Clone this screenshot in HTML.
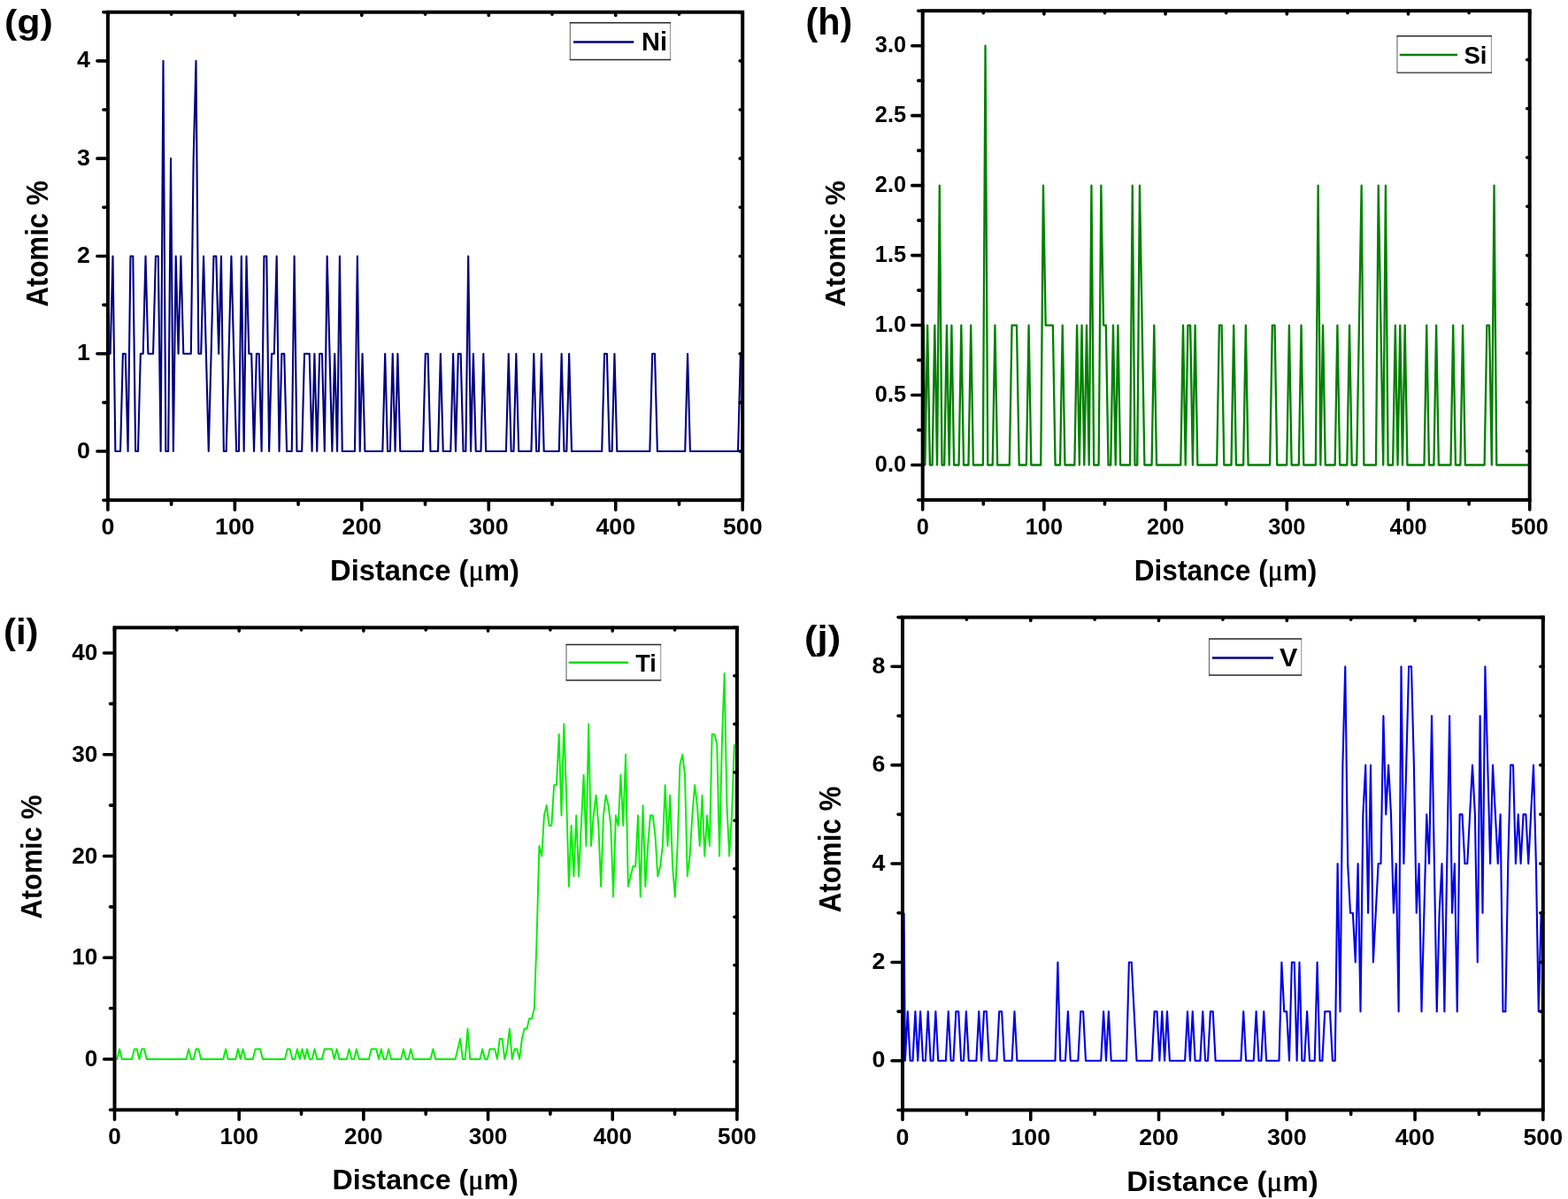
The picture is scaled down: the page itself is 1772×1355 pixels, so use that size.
<!DOCTYPE html>
<html lang="en">
<head>
<meta charset="utf-8">
<title>EDS line scan profiles (g) Ni, (h) Si, (i) Ti, (j) V</title>
<style>
html,body{margin:0;padding:0;background:#fff;}
body{width:1772px;height:1355px;overflow:hidden;}
svg{display:block;}
text{font-family:'Liberation Sans', Arial, Helvetica, sans-serif;font-weight:700;fill:#000;}
.mu{font-family:'Liberation Serif','DejaVu Serif',serif;font-weight:400;stroke:#000;stroke-width:0.6px;}
</style>
</head>
<body>
<svg width="1772" height="1355" viewBox="0 0 1772 1355">
<rect width="1772" height="1355" fill="#fff"/>
<g class="panel">
<clipPath id="cg"><rect x="121.9" y="13.7" width="717.3" height="551.5"/></clipPath>
<polyline clip-path="url(#cg)" points="122.6,399.75 124.65,399.75 127.5,289.45 130.35,510.05 133.2,510.05 136.04,510.05 138.89,399.75 141.74,399.75 144.59,510.05 147.44,289.45 150.29,289.45 153.14,510.05 155.99,510.05 158.84,399.75 161.69,399.75 164.53,289.45 167.38,399.75 170.23,399.75 173.08,399.75 175.93,289.45 178.78,289.45 181.63,510.05 184.48,68.85 187.33,510.05 190.18,510.05 193.03,179.15 195.87,510.05 198.72,289.45 201.57,399.75 204.42,289.45 207.27,399.75 210.12,399.75 212.97,399.75 215.82,399.75 218.67,179.15 221.51,68.85 224.36,399.75 227.21,399.75 230.06,289.45 232.91,399.75 235.76,510.05 238.61,399.75 241.46,289.45 244.31,289.45 247.16,399.75 250,289.45 252.85,510.05 255.7,510.05 258.55,399.75 261.4,289.45 264.25,399.75 267.1,510.05 269.95,510.05 272.8,289.45 275.65,510.05 278.5,289.45 281.34,399.75 284.19,399.75 287.04,510.05 289.89,399.75 292.74,399.75 295.59,510.05 298.44,289.45 301.29,289.45 304.14,510.05 306.99,399.75 309.83,399.75 312.68,289.45 315.53,510.05 318.38,399.75 321.23,399.75 324.08,510.05 326.93,510.05 329.78,510.05 332.63,289.45 335.48,510.05 338.32,510.05 341.17,510.05 344.02,399.75 346.87,399.75 349.72,399.75 352.57,510.05 355.42,399.75 358.27,510.05 361.12,399.75 363.97,399.75 366.81,510.05 369.66,289.45 372.51,399.75 375.36,510.05 378.21,399.75 381.06,510.05 383.91,289.45 386.76,510.05 389.61,510.05 392.46,510.05 395.3,510.05 398.15,510.05 401,510.05 403.85,289.45 406.7,510.05 409.55,399.75 412.4,510.05 415.25,510.05 418.1,510.05 420.95,510.05 423.79,510.05 426.64,510.05 429.49,510.05 432.34,510.05 435.19,399.75 438.04,510.05 440.89,510.05 443.74,399.75 446.59,510.05 449.44,399.75 452.28,510.05 455.13,510.05 457.98,510.05 460.83,510.05 463.68,510.05 466.53,510.05 469.38,510.05 472.23,510.05 475.08,510.05 477.93,510.05 480.77,399.75 483.62,399.75 486.47,510.05 489.32,510.05 492.17,510.05 495.02,510.05 497.87,399.75 500.72,510.05 503.57,510.05 506.42,510.05 509.26,510.05 512.11,399.75 514.96,510.05 517.81,399.75 520.66,399.75 523.51,510.05 526.36,510.05 529.21,289.45 532.06,510.05 534.9,399.75 537.75,510.05 540.6,510.05 543.45,510.05 546.3,399.75 549.15,510.05 552,510.05 554.85,510.05 557.7,510.05 560.55,510.05 563.39,510.05 566.24,510.05 569.09,510.05 571.94,510.05 574.79,399.75 577.64,510.05 580.49,510.05 583.34,399.75 586.19,510.05 589.04,510.05 591.88,510.05 594.73,510.05 597.58,510.05 600.43,510.05 603.28,399.75 606.13,510.05 608.98,510.05 611.83,399.75 614.68,510.05 617.53,510.05 620.38,510.05 623.22,510.05 626.07,510.05 628.92,510.05 631.77,510.05 634.62,399.75 637.47,510.05 640.32,510.05 643.17,399.75 646.02,510.05 648.87,510.05 651.71,510.05 654.56,510.05 657.41,510.05 660.26,510.05 663.11,510.05 665.96,510.05 668.81,510.05 671.66,510.05 674.51,510.05 677.36,510.05 680.2,510.05 683.05,399.75 685.9,399.75 688.75,510.05 691.6,510.05 694.45,399.75 697.3,510.05 700.15,510.05 703,510.05 705.85,510.05 708.69,510.05 711.54,510.05 714.39,510.05 717.24,510.05 720.09,510.05 722.94,510.05 725.79,510.05 728.64,510.05 731.49,510.05 734.34,510.05 737.18,399.75 740.03,399.75 742.88,510.05 745.73,510.05 748.58,510.05 751.43,510.05 754.28,510.05 757.13,510.05 759.98,510.05 762.83,510.05 765.67,510.05 768.52,510.05 771.37,510.05 774.22,510.05 777.07,399.75 779.92,510.05 782.77,510.05 785.62,510.05 788.47,510.05 791.32,510.05 794.16,510.05 797.01,510.05 799.86,510.05 802.71,510.05 805.56,510.05 808.41,510.05 811.26,510.05 814.11,510.05 816.96,510.05 819.8,510.05 822.65,510.05 825.5,510.05 828.35,510.05 831.2,510.05 834.05,510.05 836.9,399.75 839.75,399.75" fill="none" stroke="#000080" stroke-width="2.1" stroke-linejoin="round"/>
<rect x="121.9" y="13.7" width="717.3" height="551.5" fill="none" stroke="#000" stroke-width="4"/>
<path d="M121.9 565.2 v11 M121.9 13.7 v3.8 M193.63 565.2 v5 M193.63 13.7 v2.6 M265.36 565.2 v11 M265.36 13.7 v3.8 M337.09 565.2 v5 M337.09 13.7 v2.6 M408.82 565.2 v11 M408.82 13.7 v3.8 M480.55 565.2 v5 M480.55 13.7 v2.6 M552.28 565.2 v11 M552.28 13.7 v3.8 M624.01 565.2 v5 M624.01 13.7 v2.6 M695.74 565.2 v11 M695.74 13.7 v3.8 M767.47 565.2 v5 M767.47 13.7 v2.6 M839.2 565.2 v11 M839.2 13.7 v3.8 M121.9 565.2 h-5 M121.9 510.05 h-12 M121.9 454.9 h-5 M121.9 399.75 h-12 M121.9 344.6 h-5 M121.9 289.45 h-12 M121.9 234.3 h-5 M121.9 179.15 h-12 M121.9 124 h-5 M121.9 68.85 h-12 M121.9 13.7 h-5 M839.2 13.7 h-3 M839.2 68.85 h-3 M839.2 124 h-3 M839.2 179.15 h-3 M839.2 234.3 h-3 M839.2 289.45 h-3 M839.2 344.6 h-3 M839.2 399.75 h-3 M839.2 454.9 h-3 M839.2 510.05 h-3 M839.2 565.2 h-3" stroke="#000" stroke-width="3.6" fill="none" stroke-linecap="round"/>
<text transform="translate(121.9 603.8) scale(1.03 1)" font-size="26" text-anchor="middle">0</text>
<text transform="translate(265.36 603.8) scale(1.03 1)" font-size="26" text-anchor="middle">100</text>
<text transform="translate(408.82 603.8) scale(1.03 1)" font-size="26" text-anchor="middle">200</text>
<text transform="translate(552.28 603.8) scale(1.03 1)" font-size="26" text-anchor="middle">300</text>
<text transform="translate(695.74 603.8) scale(1.03 1)" font-size="26" text-anchor="middle">400</text>
<text transform="translate(839.2 603.8) scale(1.03 1)" font-size="26" text-anchor="middle">500</text>
<text transform="translate(102 517.65) scale(1.03 1)" font-size="26" text-anchor="end">0</text>
<text transform="translate(102 407.35) scale(1.03 1)" font-size="26" text-anchor="end">1</text>
<text transform="translate(102 297.05) scale(1.03 1)" font-size="26" text-anchor="end">2</text>
<text transform="translate(102 186.75) scale(1.03 1)" font-size="26" text-anchor="end">3</text>
<text transform="translate(102 76.45) scale(1.03 1)" font-size="26" text-anchor="end">4</text>
<text transform="translate(480 655.5) scale(0.98 1)" font-size="33.4" text-anchor="middle">Distance (<tspan class="mu">μ</tspan>m)</text>
<text transform="translate(54.3 275.5) rotate(-90) scale(1 1.15)" font-size="31.3" text-anchor="middle">Atomic %</text>
<text transform="translate(4.9 37.9) scale(1.09 1)" font-size="39.4" text-anchor="start">(g)</text>
<rect x="644.3" y="25.8" width="113.2" height="41.7" fill="#fff"/>
<path d="M644.3 25.8 V67.5" stroke="#666" stroke-width="1.1" fill="none"/>
<path d="M757.5 25.8 V67.5" stroke="#999" stroke-width="1.1" fill="none"/>
<path d="M643.8 25.8 H758 M643.8 67.5 H758" stroke="#2a2a2a" stroke-width="1.4" fill="none"/>
<path d="M648 47.5 H716.3" stroke="#000080" stroke-width="2.5"/>
<text transform="translate(725 57)" font-size="29" text-anchor="start">Ni</text>
</g>
<g class="panel">
<clipPath id="ch"><rect x="1042.7" y="12.2" width="686" height="552.8"/></clipPath>
<polyline clip-path="url(#ch)" points="1043.9,367.57 1045.42,525.51 1048.15,367.57 1050.88,525.51 1053.6,525.51 1056.33,367.57 1059.05,525.51 1061.78,209.63 1064.5,525.51 1067.23,525.51 1069.95,367.57 1072.67,525.51 1075.4,367.57 1078.12,525.51 1080.85,525.51 1083.58,525.51 1086.3,367.57 1089.03,525.51 1091.75,525.51 1094.48,525.51 1097.2,367.57 1099.92,525.51 1102.65,525.51 1105.38,525.51 1108.1,525.51 1110.83,525.51 1113.55,51.69 1116.28,525.51 1119,525.51 1121.73,525.51 1124.45,367.57 1127.17,525.51 1129.9,525.51 1132.62,525.51 1135.35,525.51 1138.08,525.51 1140.8,525.51 1143.53,367.57 1146.25,367.57 1148.98,367.57 1151.7,525.51 1154.42,525.51 1157.15,525.51 1159.88,525.51 1162.6,367.57 1165.33,525.51 1168.05,525.51 1170.78,525.51 1173.5,525.51 1176.23,525.51 1178.95,209.63 1181.67,367.57 1184.4,367.57 1187.12,367.57 1189.85,367.57 1192.58,525.51 1195.3,525.51 1198.03,525.51 1200.75,367.57 1203.48,525.51 1206.2,525.51 1208.92,525.51 1211.65,525.51 1214.38,525.51 1217.1,367.57 1219.83,525.51 1222.55,367.57 1225.28,525.51 1228,367.57 1230.73,525.51 1233.45,209.63 1236.17,525.51 1238.9,525.51 1241.62,525.51 1244.35,209.63 1247.08,367.57 1249.8,367.57 1252.53,525.51 1255.25,525.51 1257.98,367.57 1260.7,525.51 1263.42,367.57 1266.15,525.51 1268.88,525.51 1271.6,525.51 1274.33,525.51 1277.05,525.51 1279.78,209.63 1282.5,525.51 1285.23,525.51 1287.95,209.63 1290.67,367.57 1293.4,525.51 1296.12,525.51 1298.85,525.51 1301.58,525.51 1304.3,367.57 1307.03,525.51 1309.75,525.51 1312.48,525.51 1315.2,525.51 1317.93,525.51 1320.65,525.51 1323.38,525.51 1326.1,525.51 1328.83,525.51 1331.55,525.51 1334.28,525.51 1337,367.57 1339.73,525.51 1342.45,367.57 1345.18,367.57 1347.9,525.51 1350.62,367.57 1353.35,525.51 1356.08,525.51 1358.8,525.51 1361.53,525.51 1364.25,525.51 1366.98,525.51 1369.7,525.51 1372.43,525.51 1375.15,525.51 1377.88,367.57 1380.6,367.57 1383.33,525.51 1386.05,525.51 1388.78,525.51 1391.5,525.51 1394.23,367.57 1396.95,525.51 1399.68,525.51 1402.4,525.51 1405.12,525.51 1407.85,367.57 1410.58,525.51 1413.3,525.51 1416.03,525.51 1418.75,525.51 1421.48,525.51 1424.2,525.51 1426.93,525.51 1429.65,525.51 1432.38,525.51 1435.1,525.51 1437.83,367.57 1440.55,367.57 1443.28,525.51 1446,525.51 1448.73,525.51 1451.45,525.51 1454.18,525.51 1456.9,367.57 1459.62,525.51 1462.35,525.51 1465.08,525.51 1467.8,525.51 1470.53,367.57 1473.25,525.51 1475.98,525.51 1478.7,525.51 1481.43,525.51 1484.15,525.51 1486.88,525.51 1489.6,209.63 1492.33,525.51 1495.05,367.57 1497.78,525.51 1500.5,525.51 1503.23,525.51 1505.95,525.51 1508.68,525.51 1511.4,367.57 1514.12,525.51 1516.85,525.51 1519.58,525.51 1522.3,525.51 1525.03,367.57 1527.75,525.51 1530.48,525.51 1533.2,525.51 1535.93,367.57 1538.65,209.63 1541.38,525.51 1544.1,525.51 1546.83,525.51 1549.55,525.51 1552.28,525.51 1555,525.51 1557.72,209.63 1560.45,367.57 1563.18,525.51 1565.9,209.63 1568.62,525.51 1571.35,525.51 1574.08,525.51 1576.8,367.57 1579.53,525.51 1582.25,367.57 1584.97,525.51 1587.7,367.57 1590.43,525.51 1593.15,525.51 1595.88,525.51 1598.6,525.51 1601.33,525.51 1604.05,525.51 1606.78,525.51 1609.5,525.51 1612.22,367.57 1614.95,525.51 1617.68,525.51 1620.4,525.51 1623.12,367.57 1625.85,525.51 1628.58,525.51 1631.3,525.51 1634.03,525.51 1636.75,525.51 1639.47,525.51 1642.2,367.57 1644.93,525.51 1647.65,525.51 1650.38,525.51 1653.1,367.57 1655.83,525.51 1658.55,525.51 1661.28,525.51 1664,525.51 1666.72,525.51 1669.45,525.51 1672.18,525.51 1674.9,525.51 1677.62,525.51 1680.35,367.57 1683.08,367.57 1685.8,525.51 1688.53,209.63 1691.25,525.51 1693.97,525.51 1696.7,525.51 1699.43,525.51 1702.15,525.51 1704.88,525.51 1707.6,525.51 1710.33,525.51 1713.05,525.51 1715.78,525.51 1718.5,525.51 1721.22,525.51 1723.95,525.51 1726.68,525.51 1729.4,525.51" fill="none" stroke="#008000" stroke-width="2.3" stroke-linejoin="round"/>
<rect x="1042.7" y="12.2" width="686" height="552.8" fill="none" stroke="#000" stroke-width="4"/>
<path d="M1042.7 565 v11 M1042.7 12.2 v3.8 M1111.3 565 v5 M1111.3 12.2 v2.6 M1179.9 565 v11 M1179.9 12.2 v3.8 M1248.5 565 v5 M1248.5 12.2 v2.6 M1317.1 565 v11 M1317.1 12.2 v3.8 M1385.7 565 v5 M1385.7 12.2 v2.6 M1454.3 565 v11 M1454.3 12.2 v3.8 M1522.9 565 v5 M1522.9 12.2 v2.6 M1591.5 565 v11 M1591.5 12.2 v3.8 M1660.1 565 v5 M1660.1 12.2 v2.6 M1728.7 565 v11 M1728.7 12.2 v3.8 M1042.7 565 h-5 M1042.7 525.51 h-12 M1042.7 486.03 h-5 M1042.7 446.54 h-12 M1042.7 407.06 h-5 M1042.7 367.57 h-12 M1042.7 328.09 h-5 M1042.7 288.6 h-12 M1042.7 249.11 h-5 M1042.7 209.63 h-12 M1042.7 170.14 h-5 M1042.7 130.66 h-12 M1042.7 91.17 h-5 M1042.7 51.69 h-12 M1042.7 12.2 h-5 M1728.7 12.2 h-3 M1728.7 67.48 h-3 M1728.7 122.76 h-3 M1728.7 178.04 h-3 M1728.7 233.32 h-3 M1728.7 288.6 h-3 M1728.7 343.88 h-3 M1728.7 399.16 h-3 M1728.7 454.44 h-3 M1728.7 509.72 h-3 M1728.7 565 h-3" stroke="#000" stroke-width="3.6" fill="none" stroke-linecap="round"/>
<text transform="translate(1042.7 603.8) scale(0.974 1)" font-size="26" text-anchor="middle">0</text>
<text transform="translate(1179.9 603.8) scale(0.974 1)" font-size="26" text-anchor="middle">100</text>
<text transform="translate(1317.1 603.8) scale(0.974 1)" font-size="26" text-anchor="middle">200</text>
<text transform="translate(1454.3 603.8) scale(0.974 1)" font-size="26" text-anchor="middle">300</text>
<text transform="translate(1591.5 603.8) scale(0.974 1)" font-size="26" text-anchor="middle">400</text>
<text transform="translate(1728.7 603.8) scale(0.974 1)" font-size="26" text-anchor="middle">500</text>
<text transform="translate(1024 532.91) scale(0.974 1)" font-size="26" text-anchor="end">0.0</text>
<text transform="translate(1024 453.94) scale(0.974 1)" font-size="26" text-anchor="end">0.5</text>
<text transform="translate(1024 374.97) scale(0.974 1)" font-size="26" text-anchor="end">1.0</text>
<text transform="translate(1024 296) scale(0.974 1)" font-size="26" text-anchor="end">1.5</text>
<text transform="translate(1024 217.03) scale(0.974 1)" font-size="26" text-anchor="end">2.0</text>
<text transform="translate(1024 138.06) scale(0.974 1)" font-size="26" text-anchor="end">2.5</text>
<text transform="translate(1024 59.09) scale(0.974 1)" font-size="26" text-anchor="end">3.0</text>
<text transform="translate(1385 655.5) scale(0.946 1)" font-size="33.4" text-anchor="middle">Distance (<tspan class="mu">μ</tspan>m)</text>
<text transform="translate(955 275.5) rotate(-90) scale(1 1.015)" font-size="31.3" text-anchor="middle">Atomic %</text>
<text transform="translate(910.5 38.6) scale(0.975 1)" font-size="42.4" text-anchor="start">(h)</text>
<rect x="1579" y="40.8" width="106.5" height="41.3" fill="#fff"/>
<path d="M1579 40.8 V82.1" stroke="#666" stroke-width="1.1" fill="none"/>
<path d="M1685.5 40.8 V82.1" stroke="#999" stroke-width="1.1" fill="none"/>
<path d="M1578.5 40.8 H1686 M1578.5 82.1 H1686" stroke="#2a2a2a" stroke-width="1.4" fill="none"/>
<path d="M1581.7 62 H1647" stroke="#008000" stroke-width="2.5"/>
<text transform="translate(1654.5 71.7)" font-size="27.5" text-anchor="start">Si</text>
</g>
<g class="panel">
<clipPath id="ci"><rect x="129.5" y="709.3" width="703.4" height="545"/></clipPath>
<polyline clip-path="url(#ci)" points="129.5,1196.93 132.29,1196.93 135.08,1185.46 137.87,1196.93 140.66,1196.93 143.45,1196.93 146.24,1196.93 149.03,1196.93 151.82,1185.46 154.61,1185.46 157.4,1196.93 160.19,1185.46 162.98,1185.46 165.77,1196.93 168.56,1196.93 171.35,1196.93 174.14,1196.93 176.93,1196.93 179.72,1196.93 182.51,1196.93 185.3,1196.93 188.09,1196.93 190.88,1196.93 193.67,1196.93 196.46,1196.93 199.25,1196.93 202.04,1196.93 204.83,1196.93 207.62,1196.93 210.41,1196.93 213.2,1185.46 215.99,1196.93 218.78,1196.93 221.57,1185.46 224.36,1185.46 227.15,1196.93 229.94,1196.93 232.73,1196.93 235.52,1196.93 238.31,1196.93 241.1,1196.93 243.89,1196.93 246.68,1196.93 249.47,1196.93 252.26,1196.93 255.05,1185.46 257.84,1196.93 260.63,1196.93 263.42,1196.93 266.21,1196.93 269,1185.46 271.79,1196.93 274.58,1185.46 277.37,1196.93 280.16,1196.93 282.95,1196.93 285.74,1196.93 288.53,1185.46 291.32,1185.46 294.11,1185.46 296.9,1196.93 299.69,1196.93 302.48,1196.93 305.27,1196.93 308.06,1196.93 310.85,1196.93 313.64,1196.93 316.43,1196.93 319.22,1196.93 322.01,1196.93 324.8,1185.46 327.59,1185.46 330.38,1196.93 333.17,1196.93 335.96,1185.46 338.75,1196.93 341.54,1185.46 344.33,1196.93 347.12,1185.46 349.91,1196.93 352.7,1196.93 355.49,1185.46 358.28,1196.93 361.07,1196.93 363.86,1196.93 366.65,1185.46 369.44,1185.46 372.23,1185.46 375.02,1185.46 377.81,1196.93 380.6,1185.46 383.39,1196.93 386.18,1196.93 388.97,1196.93 391.76,1196.93 394.55,1185.46 397.34,1196.93 400.13,1196.93 402.92,1185.46 405.71,1196.93 408.5,1196.93 411.29,1196.93 414.08,1196.93 416.87,1196.93 419.66,1185.46 422.45,1185.46 425.24,1185.46 428.03,1196.93 430.82,1185.46 433.61,1196.93 436.4,1196.93 439.19,1185.46 441.98,1196.93 444.77,1196.93 447.56,1196.93 450.35,1196.93 453.14,1196.93 455.93,1185.46 458.72,1196.93 461.51,1196.93 464.3,1185.46 467.09,1196.93 469.88,1196.93 472.67,1196.93 475.46,1196.93 478.25,1196.93 481.04,1196.93 483.83,1196.93 486.62,1196.93 489.41,1185.46 492.2,1196.93 494.99,1196.93 497.78,1196.93 500.57,1196.93 503.36,1196.93 506.15,1196.93 508.94,1196.93 511.73,1196.93 514.52,1196.93 517.31,1185.46 520.1,1173.98 522.89,1196.93 525.68,1196.93 528.47,1162.51 531.26,1196.93 534.05,1196.93 536.84,1196.93 539.63,1196.93 542.42,1196.93 545.21,1185.46 548,1196.93 550.79,1196.93 553.58,1185.46 556.37,1185.46 559.16,1185.46 561.95,1196.93 564.74,1173.98 567.53,1173.98 570.32,1196.93 573.11,1185.46 575.9,1162.51 578.69,1196.93 581.48,1185.46 584.27,1185.46 587.06,1196.93 589.85,1173.98 592.64,1162.51 595.43,1162.51 598.22,1151.04 601.01,1151.04 603.8,1139.56 606.59,1059.25 609.38,955.98 612.17,967.46 614.96,921.56 617.75,910.09 620.54,933.04 623.33,933.04 626.12,887.14 628.91,887.14 631.7,829.77 634.49,921.56 637.28,818.3 640.07,898.62 642.86,1001.88 645.65,933.04 648.44,990.41 651.23,921.56 654.02,990.41 656.81,933.04 659.6,875.67 662.39,955.98 665.18,818.3 667.97,955.98 670.76,921.56 673.55,898.62 676.34,933.04 679.13,1001.88 681.92,921.56 684.71,898.62 687.5,910.09 690.29,933.04 693.08,1013.35 695.87,921.56 698.66,933.04 701.45,875.67 704.24,933.04 707.03,852.72 709.82,1001.88 712.61,990.41 715.4,978.93 718.19,978.93 720.98,921.56 723.77,1013.35 726.56,910.09 729.35,1001.88 732.14,955.98 734.93,921.56 737.72,921.56 740.51,944.51 743.3,990.41 746.09,978.93 748.88,955.98 751.67,887.14 754.46,955.98 757.25,898.62 760.04,978.93 762.83,1013.35 765.62,955.98 768.41,864.19 771.2,852.72 773.99,875.67 776.78,990.41 779.57,967.46 782.36,921.56 785.15,887.14 787.94,910.09 790.73,955.98 793.52,898.62 796.31,967.46 799.1,921.56 801.89,955.98 804.68,829.77 807.47,829.77 810.26,841.25 813.05,967.46 815.84,841.25 818.63,760.93 821.42,910.09 824.21,967.46 827,921.56 829.79,841.25" fill="none" stroke="#00ee00" stroke-width="1.9" stroke-linejoin="round"/>
<rect x="129.5" y="709.3" width="703.4" height="545" fill="none" stroke="#000" stroke-width="4"/>
<path d="M129.5 1254.3 v11 M129.5 709.3 v3.8 M199.84 1254.3 v5 M199.84 709.3 v2.6 M270.18 1254.3 v11 M270.18 709.3 v3.8 M340.52 1254.3 v5 M340.52 709.3 v2.6 M410.86 1254.3 v11 M410.86 709.3 v3.8 M481.2 1254.3 v5 M481.2 709.3 v2.6 M551.54 1254.3 v11 M551.54 709.3 v3.8 M621.88 1254.3 v5 M621.88 709.3 v2.6 M692.22 1254.3 v11 M692.22 709.3 v3.8 M762.56 1254.3 v5 M762.56 709.3 v2.6 M832.9 1254.3 v11 M832.9 709.3 v3.8 M129.5 1254.3 h-5 M129.5 1196.93 h-12 M129.5 1139.56 h-5 M129.5 1082.19 h-12 M129.5 1024.83 h-5 M129.5 967.46 h-12 M129.5 910.09 h-5 M129.5 852.72 h-12 M129.5 795.35 h-5 M129.5 737.98 h-12 M832.9 709.3 h-3 M832.9 763.8 h-3 M832.9 818.3 h-3 M832.9 872.8 h-3 M832.9 927.3 h-3 M832.9 981.8 h-3 M832.9 1036.3 h-3 M832.9 1090.8 h-3 M832.9 1145.3 h-3 M832.9 1199.8 h-3 M832.9 1254.3 h-3" stroke="#000" stroke-width="3.6" fill="none" stroke-linecap="round"/>
<text transform="translate(129.5 1293) scale(1.005 1)" font-size="26" text-anchor="middle">0</text>
<text transform="translate(270.18 1293) scale(1.005 1)" font-size="26" text-anchor="middle">100</text>
<text transform="translate(410.86 1293) scale(1.005 1)" font-size="26" text-anchor="middle">200</text>
<text transform="translate(551.54 1293) scale(1.005 1)" font-size="26" text-anchor="middle">300</text>
<text transform="translate(692.22 1293) scale(1.005 1)" font-size="26" text-anchor="middle">400</text>
<text transform="translate(832.9 1293) scale(1.005 1)" font-size="26" text-anchor="middle">500</text>
<text transform="translate(110.3 1205.13) scale(1.005 1)" font-size="26" text-anchor="end">0</text>
<text transform="translate(110.3 1090.39) scale(1.005 1)" font-size="26" text-anchor="end">10</text>
<text transform="translate(110.3 975.66) scale(1.005 1)" font-size="26" text-anchor="end">20</text>
<text transform="translate(110.3 860.92) scale(1.005 1)" font-size="26" text-anchor="end">30</text>
<text transform="translate(110.3 746.18) scale(1.005 1)" font-size="26" text-anchor="end">40</text>
<text transform="translate(480.6 1344) scale(1.015 1)" font-size="31.7" text-anchor="middle">Distance (<tspan class="mu">μ</tspan>m)</text>
<text transform="translate(47.3 968.5) rotate(-90) scale(1 1.09)" font-size="30.7" text-anchor="middle">Atomic %</text>
<text transform="translate(4 728.1) scale(1.04 1)" font-size="40.2" text-anchor="start">(i)</text>
<rect x="640" y="728.5" width="106.7" height="40.3" fill="#fff"/>
<path d="M640 728.5 V768.8" stroke="#666" stroke-width="1.1" fill="none"/>
<path d="M746.7 728.5 V768.8" stroke="#999" stroke-width="1.1" fill="none"/>
<path d="M639.5 728.5 H747.2 M639.5 768.8 H747.2" stroke="#2a2a2a" stroke-width="1.4" fill="none"/>
<path d="M642.6 748.7 H710" stroke="#19d919" stroke-width="2.5"/>
<text transform="translate(718.3 758.5)" font-size="27" text-anchor="start">Ti</text>
</g>
<g class="panel">
<clipPath id="cj"><rect x="1020" y="697.6" width="723.8" height="556.9"/></clipPath>
<polyline clip-path="url(#cj)" points="1021.6,1031.74 1022.88,1198.81 1025.75,1143.12 1028.62,1198.81 1031.5,1198.81 1034.38,1143.12 1037.25,1198.81 1040.12,1143.12 1043,1198.81 1045.88,1198.81 1048.75,1143.12 1051.62,1198.81 1054.5,1198.81 1057.38,1143.12 1060.25,1198.81 1063.12,1198.81 1066,1198.81 1068.88,1198.81 1071.75,1143.12 1074.62,1198.81 1077.5,1198.81 1080.38,1143.12 1083.25,1143.12 1086.12,1198.81 1089,1198.81 1091.88,1143.12 1094.75,1198.81 1097.62,1198.81 1100.5,1198.81 1103.38,1198.81 1106.25,1143.12 1109.12,1198.81 1112,1143.12 1114.88,1143.12 1117.75,1198.81 1120.62,1198.81 1123.5,1198.81 1126.38,1198.81 1129.25,1143.12 1132.12,1143.12 1135,1198.81 1137.88,1198.81 1140.75,1198.81 1143.62,1198.81 1146.5,1143.12 1149.38,1198.81 1152.25,1198.81 1155.12,1198.81 1158,1198.81 1160.88,1198.81 1163.75,1198.81 1166.62,1198.81 1169.5,1198.81 1172.38,1198.81 1175.25,1198.81 1178.12,1198.81 1181,1198.81 1183.88,1198.81 1186.75,1198.81 1189.62,1198.81 1192.5,1198.81 1195.38,1087.43 1198.25,1198.81 1201.12,1198.81 1204,1198.81 1206.88,1143.12 1209.75,1198.81 1212.62,1198.81 1215.5,1198.81 1218.38,1198.81 1221.25,1143.12 1224.12,1143.12 1227,1198.81 1229.88,1198.81 1232.75,1198.81 1235.62,1198.81 1238.5,1198.81 1241.38,1198.81 1244.25,1198.81 1247.12,1143.12 1250,1198.81 1252.88,1143.12 1255.75,1198.81 1258.62,1198.81 1261.5,1198.81 1264.38,1198.81 1267.25,1198.81 1270.12,1198.81 1273,1198.81 1275.88,1087.43 1278.75,1087.43 1281.62,1143.12 1284.5,1198.81 1287.38,1198.81 1290.25,1198.81 1293.12,1198.81 1296,1198.81 1298.88,1198.81 1301.75,1198.81 1304.62,1143.12 1307.5,1143.12 1310.38,1198.81 1313.25,1143.12 1316.12,1198.81 1319,1143.12 1321.88,1198.81 1324.75,1198.81 1327.62,1198.81 1330.5,1198.81 1333.38,1198.81 1336.25,1198.81 1339.12,1198.81 1342,1143.12 1344.88,1198.81 1347.75,1143.12 1350.62,1198.81 1353.5,1198.81 1356.38,1198.81 1359.25,1143.12 1362.12,1198.81 1365,1198.81 1367.88,1143.12 1370.75,1143.12 1373.62,1198.81 1376.5,1198.81 1379.38,1198.81 1382.25,1198.81 1385.12,1198.81 1388,1198.81 1390.88,1198.81 1393.75,1198.81 1396.62,1198.81 1399.5,1198.81 1402.38,1198.81 1405.25,1143.12 1408.12,1198.81 1411,1198.81 1413.88,1198.81 1416.75,1198.81 1419.62,1143.12 1422.5,1198.81 1425.38,1198.81 1428.25,1143.12 1431.12,1198.81 1434,1198.81 1436.88,1198.81 1439.75,1198.81 1442.62,1198.81 1445.5,1198.81 1448.38,1087.43 1451.25,1143.12 1454.12,1143.12 1457,1198.81 1459.88,1087.43 1462.75,1087.43 1465.62,1198.81 1468.5,1087.43 1471.38,1198.81 1474.25,1198.81 1477.12,1143.12 1480,1198.81 1482.88,1198.81 1485.75,1198.81 1488.62,1087.43 1491.5,1198.81 1494.38,1198.81 1497.25,1143.12 1500.12,1143.12 1503,1143.12 1505.88,1198.81 1508.75,1198.81 1511.62,976.05 1514.5,1143.12 1517.38,864.67 1520.25,753.29 1523.12,976.05 1526,1031.74 1528.88,1031.74 1531.75,1087.43 1534.62,976.05 1537.5,1143.12 1540.38,920.36 1543.25,864.67 1546.12,1031.74 1549,864.67 1551.88,1087.43 1554.75,1031.74 1557.62,976.05 1560.5,976.05 1563.38,808.98 1566.25,920.36 1569.12,864.67 1572,920.36 1574.88,1031.74 1577.75,976.05 1580.62,1143.12 1583.5,753.29 1586.38,976.05 1589.25,864.67 1592.12,753.29 1595,753.29 1597.88,864.67 1600.75,1031.74 1603.62,976.05 1606.5,1143.12 1609.38,1031.74 1612.25,920.36 1615.12,976.05 1618,808.98 1620.88,976.05 1623.75,1143.12 1626.62,1031.74 1629.5,976.05 1632.38,1143.12 1635.25,976.05 1638.12,808.98 1641,1031.74 1643.88,976.05 1646.75,1143.12 1649.62,920.36 1652.5,920.36 1655.38,976.05 1658.25,976.05 1661.12,920.36 1664,864.67 1666.88,920.36 1669.75,1087.43 1672.62,808.98 1675.5,1031.74 1678.38,753.29 1681.25,864.67 1684.12,976.05 1687,864.67 1689.88,920.36 1692.75,976.05 1695.62,920.36 1698.5,1143.12 1701.38,1143.12 1704.25,976.05 1707.12,864.67 1710,864.67 1712.88,976.05 1715.75,920.36 1718.62,976.05 1721.5,920.36 1724.38,920.36 1727.25,976.05 1730.12,920.36 1733,864.67 1735.88,976.05 1738.75,1143.12 1741.62,1031.74 1744.5,1031.74" fill="none" stroke="#0000e8" stroke-width="2.1" stroke-linejoin="round"/>
<rect x="1020" y="697.6" width="723.8" height="556.9" fill="none" stroke="#000" stroke-width="4"/>
<path d="M1020 1254.5 v11 M1020 697.6 v3.8 M1092.38 1254.5 v5 M1092.38 697.6 v2.6 M1164.76 1254.5 v11 M1164.76 697.6 v3.8 M1237.14 1254.5 v5 M1237.14 697.6 v2.6 M1309.52 1254.5 v11 M1309.52 697.6 v3.8 M1381.9 1254.5 v5 M1381.9 697.6 v2.6 M1454.28 1254.5 v11 M1454.28 697.6 v3.8 M1526.66 1254.5 v5 M1526.66 697.6 v2.6 M1599.04 1254.5 v11 M1599.04 697.6 v3.8 M1671.42 1254.5 v5 M1671.42 697.6 v2.6 M1743.8 1254.5 v11 M1743.8 697.6 v3.8 M1020 1254.5 h-5 M1020 1198.81 h-12 M1020 1143.12 h-5 M1020 1087.43 h-12 M1020 1031.74 h-5 M1020 976.05 h-12 M1020 920.36 h-5 M1020 864.67 h-12 M1020 808.98 h-5 M1020 753.29 h-12 M1020 697.6 h-5 M1743.8 697.6 h-3 M1743.8 753.29 h-3 M1743.8 808.98 h-3 M1743.8 864.67 h-3 M1743.8 920.36 h-3 M1743.8 976.05 h-3 M1743.8 1031.74 h-3 M1743.8 1087.43 h-3 M1743.8 1143.12 h-3 M1743.8 1198.81 h-3 M1743.8 1254.5 h-3" stroke="#000" stroke-width="3.6" fill="none" stroke-linecap="round"/>
<text transform="translate(1020 1293.8) scale(1.03 1)" font-size="26" text-anchor="middle">0</text>
<text transform="translate(1164.76 1293.8) scale(1.03 1)" font-size="26" text-anchor="middle">100</text>
<text transform="translate(1309.52 1293.8) scale(1.03 1)" font-size="26" text-anchor="middle">200</text>
<text transform="translate(1454.28 1293.8) scale(1.03 1)" font-size="26" text-anchor="middle">300</text>
<text transform="translate(1599.04 1293.8) scale(1.03 1)" font-size="26" text-anchor="middle">400</text>
<text transform="translate(1743.8 1293.8) scale(1.03 1)" font-size="26" text-anchor="middle">500</text>
<text transform="translate(1000.5 1206.31) scale(1.03 1)" font-size="26" text-anchor="end">0</text>
<text transform="translate(1000.5 1094.93) scale(1.03 1)" font-size="26" text-anchor="end">2</text>
<text transform="translate(1000.5 983.55) scale(1.03 1)" font-size="26" text-anchor="end">4</text>
<text transform="translate(1000.5 872.17) scale(1.03 1)" font-size="26" text-anchor="end">6</text>
<text transform="translate(1000.5 760.79) scale(1.03 1)" font-size="26" text-anchor="end">8</text>
<text transform="translate(1381.5 1346) scale(1.046 1)" font-size="31.7" text-anchor="middle">Distance (<tspan class="mu">μ</tspan>m)</text>
<text transform="translate(950 960) rotate(-90) scale(1 1.15)" font-size="31.3" text-anchor="middle">Atomic %</text>
<text transform="translate(909.1 734.2) scale(1.1 1)" font-size="39.6" text-anchor="start">(j)</text>
<rect x="1366.5" y="722" width="104.2" height="41" fill="#fff"/>
<path d="M1366.5 722 V763" stroke="#666" stroke-width="1.1" fill="none"/>
<path d="M1470.7 722 V763" stroke="#999" stroke-width="1.1" fill="none"/>
<path d="M1366 722 H1471.2 M1366 763 H1471.2" stroke="#2a2a2a" stroke-width="1.4" fill="none"/>
<path d="M1370 743.4 H1439" stroke="#00008c" stroke-width="2.5"/>
<text transform="translate(1446 753) scale(1.05 1)" font-size="29" text-anchor="start">V</text>
</g>
</svg>
</body>
</html>
